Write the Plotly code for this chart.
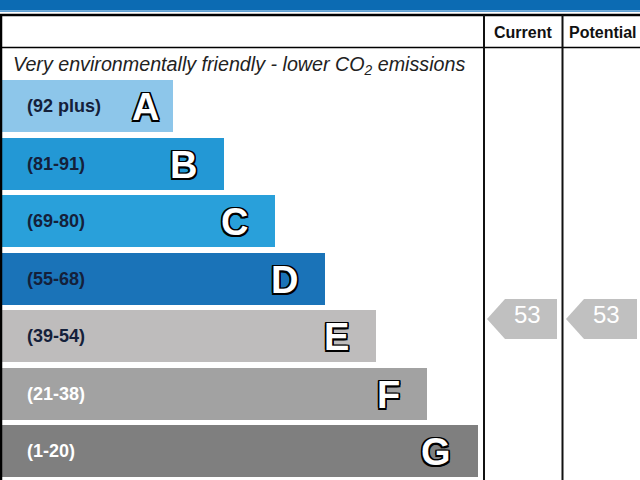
import plotly.graph_objects as go

# ---- data ----
bands = ["A", "B", "C", "D", "E", "F", "G"]
ranges = ["(92 plus)", "(81-91)", "(69-80)", "(55-68)", "(39-54)", "(21-38)", "(1-20)"]
band_min = [92, 81, 69, 55, 39, 21, 1]
band_max = [100, 91, 80, 68, 54, 38, 20]
colors = ["#8dc6ea", "#2398d5", "#29a0da", "#1a73b8", "#bebcbc", "#a2a2a2", "#7f7f7f"]
label_colors = ["#14203a", "#14203a", "#14203a", "#14203a", "#14203a", "#ffffff", "#ffffff"]
current = 53
potential = 53
title = "Environmental Impact (CO<sub>2</sub>) Rating"
top_note = "Very environmentally friendly - lower CO<sub>2</sub> emissions"
col_heads = ["Current", "Potential"]

FONT = "Liberation Sans, Arial, sans-serif"

# ---- geometry (pixel-like axis units) ----
top0, step, bar_h = 80, 57.5, 52
len0, len_step = 173, 50.8
tops = [top0 + i * step for i in range(len(bands))]
centers = [t + bar_h / 2 for t in tops]
lengths = [len0 + i * len_step for i in range(len(bands))]

fig = go.Figure()
fig.add_trace(go.Bar(
    orientation="h", y=centers, x=lengths, base=0, width=bar_h,
    marker=dict(color=colors, line=dict(width=0)),
    hoverinfo="skip", showlegend=False,
))

def value_y(v):
    for t, lo, hi in zip(tops, band_min, band_max):
        if lo <= v <= hi:
            return t + (hi - v + 0.5) / (hi - lo + 1) * bar_h
    return tops[-1]

def band_color(v):
    for c, lo, hi in zip(colors, band_min, band_max):
        if lo <= v <= hi:
            return c
    return colors[-1]

def arrow(x_left, x_right, v, color):
    yc = value_y(v) + 4
    hh = 20
    tip = 18
    xs = [x_left, x_left + tip, x_right, x_right, x_left + tip, x_left]
    ys = [yc, yc - hh, yc - hh, yc + hh, yc + hh, yc]
    fig.add_trace(go.Scatter(x=xs, y=ys, mode="lines", fill="toself",
                             fillcolor=color, line=dict(width=0, color=color),
                             hoverinfo="skip", showlegend=False))
    fig.add_annotation(x=(x_left + tip + x_right) / 2 - 4, y=yc - 4, text=str(v),
                       showarrow=False, xanchor="center", yanchor="middle",
                       font=dict(family=FONT, size=24, color="white"))

arrow(487, 557, current, "#c0c0c0" if band_color(current) == colors[4] else band_color(current))
arrow(566, 637, potential, "#c0c0c0" if band_color(potential) == colors[4] else band_color(potential))

# labels on bars
outline = ("-1.5px -1.5px 0 #000, 1.5px -1.5px 0 #000, -1.5px 1.5px 0 #000, "
           "1.5px 1.5px 0 #000, 0 1.5px 0 #000, 0 -1.5px 0 #000, 1.5px 0 0 #000, -1.5px 0 0 #000")
for i, (b, r, c, L) in enumerate(zip(bands, ranges, label_colors, lengths)):
    fig.add_annotation(x=25, y=centers[i], text="<b>%s</b>" % r, showarrow=False,
                       xanchor="left", yanchor="middle",
                       font=dict(family=FONT, size=18, color=c))
    xr = L - (12 if i == 0 else 25)
    fig.add_annotation(x=xr, y=centers[i] + 1, text="<b>%s</b>" % b, showarrow=False,
                       xanchor="right", yanchor="middle",
                       font=dict(family=FONT, size=38, color="white", shadow=outline))

# header texts
fig.add_annotation(x=11, y=65, text="<i>%s</i>" % top_note, showarrow=False,
                   xanchor="left", yanchor="middle",
                   font=dict(family=FONT, size=19.7, color="#222222"))
fig.add_annotation(x=523, y=32, text="<b>%s</b>" % col_heads[0], showarrow=False,
                   xanchor="center", yanchor="middle",
                   font=dict(family=FONT, size=16, color="#111111"))
fig.add_annotation(x=602.5, y=32, text="<b>%s</b>" % col_heads[1], showarrow=False,
                   xanchor="center", yanchor="middle",
                   font=dict(family=FONT, size=16, color="#111111"))

# title (mostly cut off above the canvas)
fig.add_annotation(x=12, y=-7, text="<b>%s</b>" % title, showarrow=False,
                   xanchor="left", yanchor="middle",
                   font=dict(family=FONT, size=32, color="white"))

# frame shapes
shapes = [
    dict(type="rect", x0=0, x1=640, y0=-20, y1=10.5, fillcolor="#0c6bb3", line=dict(width=0), layer="below"),
    dict(type="rect", x0=0, x1=640, y0=10.5, y1=12, fillcolor="#5f9fd3", line=dict(width=0), layer="below"),
    dict(type="line", x0=0, x1=640, y0=15, y1=15, line=dict(color="#000000", width=2.5)),
    dict(type="line", x0=0, x1=640, y0=47.5, y1=47.5, line=dict(color="#000000", width=1.5)),
    dict(type="line", x0=1, x1=1, y0=15, y1=480, line=dict(color="#000000", width=2.5)),
    dict(type="line", x0=484, x1=484, y0=15, y1=480, line=dict(color="#111111", width=2)),
    dict(type="line", x0=562.5, x1=562.5, y0=15, y1=480, line=dict(color="#111111", width=2)),
]
for s in shapes:
    s.setdefault("xref", "x")
    s.setdefault("yref", "y")
    s.setdefault("layer", "above")

fig.update_layout(
    width=640, height=480,
    margin=dict(l=0, r=0, t=0, b=0),
    paper_bgcolor="white", plot_bgcolor="white",
    xaxis=dict(range=[0, 640], visible=False, fixedrange=True),
    yaxis=dict(range=[480, 0], visible=False, fixedrange=True),
    shapes=shapes,
    bargap=0,
    showlegend=False,
)
fig.write_html("out.html", config={"displayModeBar": False},
               post_script="document.body.style.margin='0';document.body.style.overflow='hidden';")
